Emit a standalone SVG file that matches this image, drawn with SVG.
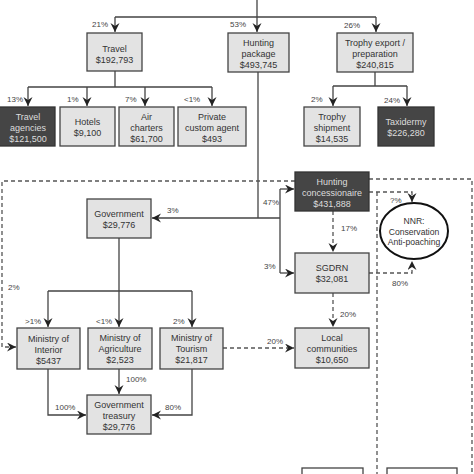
<svg xmlns="http://www.w3.org/2000/svg" width="474" height="474" viewBox="0 0 474 474">
<style>
.b{fill:#e3e3e3;stroke:#444;stroke-width:1.3}
.d{fill:#454545;stroke:#333;stroke-width:1.3}
.t{font-family:"Liberation Sans",Arial,sans-serif;font-size:9px;fill:#333;text-anchor:middle}
.n{font-family:"Liberation Sans",Arial,sans-serif;font-size:8.6px;fill:#333;text-anchor:middle}
.w{font-family:"Liberation Sans",Arial,sans-serif;font-size:9px;fill:#ddd;text-anchor:middle}
.l{font-family:"Liberation Sans",Arial,sans-serif;font-size:8px;fill:#444}
.c{fill:none;stroke:#444;stroke-width:1.3}
.s{fill:none;stroke:#555;stroke-width:1.3;stroke-dasharray:4,3}
</style>
<defs>
<marker id="a" markerWidth="10" markerHeight="10" refX="9" refY="4.5" orient="auto" markerUnits="userSpaceOnUse">
<path d="M0,0 L9,4.5 L0,9 L3,4.5 z" fill="#222"/>
</marker>
</defs>
<rect width="474" height="474" fill="#fff"/>
<g id="connectors">
<path class="c" d="M257,0 V17 M115,17 H376"/>
<path class="c" d="M115,17 V32" marker-end="url(#a)"/>
<path class="c" d="M257,17 V32" marker-end="url(#a)"/>
<path class="c" d="M376,17 V32" marker-end="url(#a)"/>
<path class="c" d="M115,71 V87 M28,87 H212"/>
<path class="c" d="M28,87 V106" marker-end="url(#a)"/>
<path class="c" d="M87,87 V106" marker-end="url(#a)"/>
<path class="c" d="M145,87 V106" marker-end="url(#a)"/>
<path class="c" d="M212,87 V106" marker-end="url(#a)"/>
<path class="c" d="M375,72 V86 M333,86 H407"/>
<path class="c" d="M333,86 V106" marker-end="url(#a)"/>
<path class="c" d="M407,86 V106" marker-end="url(#a)"/>
<path class="c" d="M258,72 V218"/>
<path class="c" d="M280,218 H152" marker-end="url(#a)"/>
<path class="c" d="M280,189 V273"/>
<path class="c" d="M280,189 H294" marker-end="url(#a)"/>
<path class="c" d="M280,273 H294" marker-end="url(#a)"/>
<path class="c" d="M119,238 V291 M48,291 H192"/>
<path class="c" d="M48,291 V327" marker-end="url(#a)"/>
<path class="c" d="M119,291 V327" marker-end="url(#a)"/>
<path class="c" d="M192,291 V327" marker-end="url(#a)"/>
<path class="c" d="M119,369 V394" marker-end="url(#a)"/>
<path class="c" d="M48,369 V415 H86" marker-end="url(#a)"/>
<path class="c" d="M192,369 V415 H152" marker-end="url(#a)"/>
<path class="s" d="M333,211 V252" marker-end="url(#a)"/>
<path class="s" d="M333,293 V327" marker-end="url(#a)"/>
<path class="s" d="M223,348 H294" marker-end="url(#a)"/>
<path class="s" d="M369,192 H412 V202" marker-end="url(#a)"/>
<path class="s" d="M377,192 V474"/>
<path class="s" d="M369,273 H412 V261" marker-end="url(#a)"/>
<path class="s" d="M295,181 H2 V347 H16" marker-end="url(#a)"/>
<path class="s" d="M369,179 H472 V474"/>
</g>
<g id="labels">
<text class="l" x="92" y="27">21%</text>
<text class="l" x="230" y="27">53%</text>
<text class="l" x="344" y="28">26%</text>
<text class="l" x="7" y="102">13%</text>
<text class="l" x="67" y="102">1%</text>
<text class="l" x="125" y="102">7%</text>
<text class="l" x="184" y="102">&lt;1%</text>
<text class="l" x="311" y="102">2%</text>
<text class="l" x="384" y="103">24%</text>
<text class="l" x="263" y="205">47%</text>
<text class="l" x="167" y="213">3%</text>
<text class="l" x="264" y="269">3%</text>
<text class="l" x="341" y="231">17%</text>
<text class="l" x="390" y="203">?%</text>
<text class="l" x="392" y="286">80%</text>
<text class="l" x="8" y="290">2%</text>
<text class="l" x="340" y="317">20%</text>
<text class="l" x="267" y="344">20%</text>
<text class="l" x="25" y="324">&gt;1%</text>
<text class="l" x="96" y="324">&lt;1%</text>
<text class="l" x="173" y="324">2%</text>
<text class="l" x="126" y="382">100%</text>
<text class="l" x="55" y="410">100%</text>
<text class="l" x="165" y="410">80%</text>
</g>
<g id="travel"><rect class="b" x="87" y="33" width="55" height="38"/><text class="t" x="114.5" y="52">Travel</text><text class="t" x="114.5" y="63">$192,793</text></g>
<g id="hunting-package"><rect class="b" x="228" y="33" width="61" height="39"/><text class="t" x="258.5" y="46">Hunting</text><text class="t" x="258.5" y="57">package</text><text class="t" x="258.5" y="68">$493,745</text></g>
<g id="trophy-export"><rect class="b" x="337" y="33" width="76" height="39"/><text class="t" x="375" y="46">Trophy export /</text><text class="t" x="375" y="57">preparation</text><text class="t" x="375" y="68">$240,815</text></g>
<g id="travel-agencies"><rect class="d" x="-2" y="107" width="57" height="39"/><text class="w" x="28" y="120">Travel</text><text class="w" x="28" y="131">agencies</text><text class="w" x="28" y="142">$121,500</text></g>
<g id="hotels"><rect class="b" x="60" y="107" width="55" height="39"/><text class="t" x="87.5" y="125">Hotels</text><text class="t" x="87.5" y="136">$9,100</text></g>
<g id="air-charters"><rect class="b" x="119" y="107" width="55" height="39"/><text class="t" x="146.5" y="120">Air</text><text class="t" x="146.5" y="131">charters</text><text class="t" x="146.5" y="142">$61,700</text></g>
<g id="private-agent"><rect class="b" x="178" y="107" width="68" height="39"/><text class="t" x="212" y="120">Private</text><text class="t" x="212" y="131">custom agent</text><text class="t" x="212" y="142">$493</text></g>
<g id="trophy-shipment"><rect class="b" x="304" y="107" width="56" height="39"/><text class="t" x="332" y="120">Trophy</text><text class="t" x="332" y="131">shipment</text><text class="t" x="332" y="142">$14,535</text></g>
<g id="taxidermy"><rect class="d" x="378" y="107" width="56" height="39"/><text class="w" x="406" y="125">Taxidermy</text><text class="w" x="406" y="136">$226,280</text></g>
<g id="hunting-concessionaire"><rect class="d" x="295" y="172" width="74" height="39"/><text class="w" x="332" y="185">Hunting</text><text class="w" x="332" y="196">concessionaire</text><text class="w" x="332" y="207">$431,888</text></g>
<g id="government"><rect class="b" x="87" y="199" width="64" height="39"/><text class="t" x="119" y="217">Government</text><text class="t" x="119" y="228">$29,776</text></g>
<g id="nnr"><ellipse cx="414" cy="231" rx="34" ry="28" fill="#fff" stroke="#111" stroke-width="2"/><text class="n" x="414" y="224">NNR:</text><text class="n" x="414" y="235">Conservation</text><text class="n" x="414" y="245">Anti-poaching</text></g>
<g id="sgdrn"><rect class="b" x="295" y="253" width="74" height="40"/><text class="t" x="332" y="271">SGDRN</text><text class="t" x="332" y="282">$32,081</text></g>
<g id="ministry-interior"><rect class="b" x="17" y="328" width="63" height="41"/><text class="t" x="48.5" y="342">Ministry of</text><text class="t" x="48.5" y="353">Interior</text><text class="t" x="48.5" y="364">$5437</text></g>
<g id="ministry-agriculture"><rect class="b" x="88" y="328" width="64" height="41"/><text class="t" x="120" y="341">Ministry of</text><text class="t" x="120" y="352">Agriculture</text><text class="t" x="120" y="363">$2,523</text></g>
<g id="ministry-tourism"><rect class="b" x="160" y="328" width="63" height="41"/><text class="t" x="191.5" y="341">Ministry of</text><text class="t" x="191.5" y="352">Tourism</text><text class="t" x="191.5" y="363">$21,817</text></g>
<g id="local-communities"><rect class="b" x="295" y="328" width="74" height="40"/><text class="t" x="332" y="341">Local</text><text class="t" x="332" y="352">communities</text><text class="t" x="332" y="363">$10,650</text></g>
<g id="government-treasury"><rect class="b" x="87" y="395" width="64" height="39"/><text class="t" x="119" y="408">Government</text><text class="t" x="119" y="419">treasury</text><text class="t" x="119" y="430">$29,776</text></g>
<g id="bottom-box-1"><rect class="b" x="302" y="468" width="61" height="20" style="fill:#fff"/></g>
<g id="bottom-box-2"><rect class="b" x="387" y="468" width="70" height="20" style="fill:#fff"/></g>
</svg>
